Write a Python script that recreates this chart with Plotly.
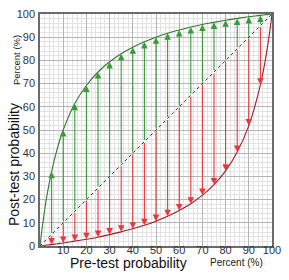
import plotly.graph_objects as go

# Curve sample points (pre-test %, post-test %)
curve_pre = [0, 1, 2, 3, 5, 7.5, 10, 15, 20, 25, 30, 35, 40, 45, 50, 55, 60, 65, 70, 75, 80, 85, 90, 95, 97, 99, 100]
pos_post = [0, 8.3, 15.5, 21.8, 32.1, 42.2, 50.0, 61.4, 69.2, 75.0, 79.4, 82.9, 85.7, 88.0, 90.0, 91.7, 93.1, 94.4, 95.5, 96.4, 97.3, 98.1, 98.8, 99.4, 99.7, 99.9, 100]
neg_post = [0, 0.1, 0.2, 0.4, 0.6, 1.0, 1.3, 2.1, 2.9, 3.8, 4.9, 6.1, 7.4, 8.9, 10.7, 12.8, 15.3, 18.2, 21.9, 26.5, 32.4, 40.5, 51.9, 69.5, 79.5, 92.2, 100]

# Arrow positions
arrow_pre = [5, 10, 15, 20, 25, 30, 35, 40, 45, 50, 55, 60, 65, 70, 75, 80, 85, 90, 95]
arrow_up = [32.1, 50.0, 61.4, 69.2, 75.0, 79.4, 82.9, 85.7, 88.0, 90.0, 91.7, 93.1, 94.4, 95.5, 96.4, 97.3, 98.1, 98.8, 99.4]
arrow_down = [0.6, 1.3, 2.1, 2.9, 3.8, 4.9, 6.1, 7.4, 8.9, 10.7, 12.8, 15.3, 18.2, 21.9, 26.5, 32.4, 40.5, 51.9, 69.5]

diag = [0, 100]
tick_vals = [10, 20, 30, 40, 50, 60, 70, 80, 90, 100]
ytick_vals = [0, 10, 20, 30, 40, 50, 60, 70, 80, 90, 100]

GREEN = "#3a9a3a"
GREEN_CURVE = "#2c7a2c"
RED = "#e8383c"
RED_CURVE = "#9e1b2e"
FONT = "Liberation Sans, Arial, sans-serif"

fig = go.Figure()
fig.add_trace(go.Scatter(x=diag, y=diag, mode="lines",
                         line=dict(color="#333333", width=1, dash="dot"), hoverinfo="skip"))
fig.add_trace(go.Scatter(x=curve_pre, y=pos_post, mode="lines", line_shape="spline",
                         line=dict(color=GREEN_CURVE, width=1.1), hoverinfo="skip"))
fig.add_trace(go.Scatter(x=curve_pre, y=neg_post, mode="lines", line_shape="spline",
                         line=dict(color=RED_CURVE, width=1.1), hoverinfo="skip"))

anns = []
for p, up, dn in zip(arrow_pre, arrow_up, arrow_down):
    anns.append(dict(x=p, y=up, ax=p, ay=p, xref="x", yref="y", axref="x", ayref="y",
                     text="", showarrow=True, arrowhead=2, arrowsize=1.2, arrowwidth=1.1,
                     arrowcolor=GREEN, standoff=0))
    anns.append(dict(x=p, y=dn, ax=p, ay=p, xref="x", yref="y", axref="x", ayref="y",
                     text="", showarrow=True, arrowhead=2, arrowsize=1.2, arrowwidth=1.1,
                     arrowcolor=RED, standoff=0))

anns += [
    dict(text="Post-test probability", x=14, y=165, xref="pixel", yref="pixel", showarrow=False,
         textangle=-90, font=dict(family=FONT, size=14, color="#111111")),
    dict(text="Percent (%)", x=16, y=60, xref="pixel", yref="pixel", showarrow=False,
         textangle=-90, font=dict(family=FONT, size=9.5, color="#222222")),
    dict(text="Pre-test probability", x=128, y=263, xref="pixel", yref="pixel", showarrow=False,
         font=dict(family=FONT, size=14, color="#111111")),
    dict(text="Percent (%)", x=236, y=262, xref="pixel", yref="pixel", showarrow=False,
         font=dict(family=FONT, size=10, color="#222222")),
]

# Convert pixel-positioned annotations to paper coords
W, H = 289, 280
L, R, T, B = 40, 17, 14, 34
pw, ph = W - L - R, H - T - B
for a in anns:
    if a.get("xref") == "pixel":
        a["xref"] = "paper"
        a["yref"] = "paper"
        a["x"] = (a["x"] - L) / pw
        a["y"] = (H - B - a["y"]) / ph
        a["xanchor"] = "center"
        a["yanchor"] = "middle"

axis_common = dict(range=[0, 100], showgrid=True, gridcolor="#b4b4b4", gridwidth=1,
                   zeroline=False, showline=True, linecolor="#6a6a6a", linewidth=1.5, mirror=True,
                   ticks="", automargin=False, tickfont=dict(family=FONT, size=11, color="#333333"),
                   minor=dict(dtick=2, showgrid=True, gridcolor="#e2e2e2", gridwidth=1))

fig.update_layout(
    width=W, height=H, margin=dict(l=L, r=R, t=T, b=B),
    paper_bgcolor="white", plot_bgcolor="white", showlegend=False,
    xaxis=dict(tickvals=tick_vals, ticklabelstandoff=-7, **axis_common),
    yaxis=dict(tickvals=ytick_vals, ticklabelstandoff=1, **axis_common),
    annotations=anns,
)
fig.write_html("out.html")
